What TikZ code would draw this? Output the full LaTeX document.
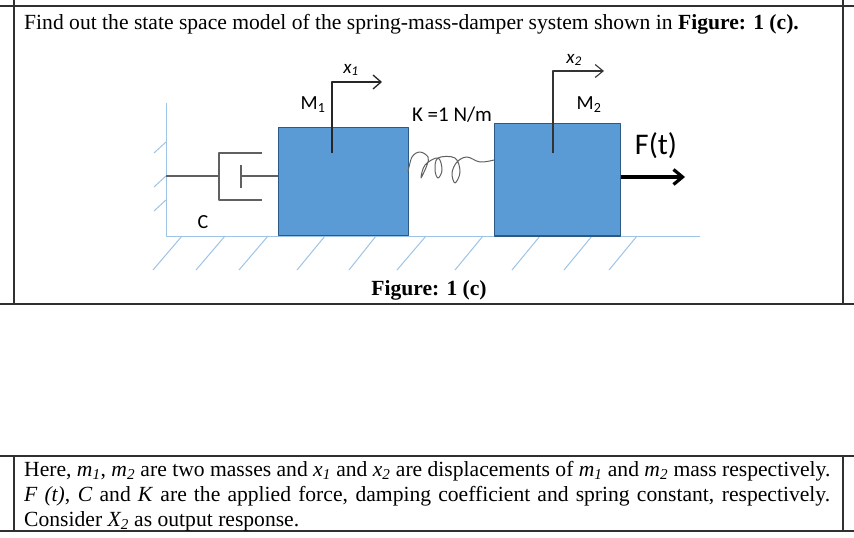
\documentclass[tikz,border=0pt]{standalone}
\usepackage{fontspec}
\usetikzlibrary{arrows.meta}
\setmainfont{Liberation Serif}
\newfontfamily\labelfont{Carlito}
\newcommand{\sub}[1]{\textsubscript{#1}}
\tikzset{
  mass/.style={draw=massedge,fill=massfill,line width=1.6pt,inner sep=0pt,anchor=north west},
  ground/.style={draw=groundblue,line width=1pt},
  rod/.style={draw=rodgray,line width=1.2pt},
  rule/.style={draw=rulegray,line width=1.5pt},
  tag/.style={font=\labelfont\fontsize{19}{19}\selectfont,inner sep=0pt},
  para/.style={font=\fontsize{21.6}{25}\selectfont,inner sep=0pt,anchor=base west},
}
\definecolor{massfill}{HTML}{5B9BD5}
\definecolor{massedge}{HTML}{2A5A85}
\definecolor{groundblue}{HTML}{9DC3E6}
\definecolor{rodgray}{HTML}{606060}
\definecolor{rulegray}{HTML}{303030}
\begin{document}
\begin{tikzpicture}[x=1pt,y=-1pt,line join=round]
  \useasboundingbox (0,0) rectangle (854,538);

  % table rules
  \draw[rule] (0,6) -- (854,6);
  \draw[rule] (0,304) -- (854,304);
  \draw[rule] (14,0) -- (14,304);
  \draw[rule] (843,0) -- (843,304);
  \draw[rule] (0,456) -- (854,456);
  \draw[rule] (0,531) -- (854,531);
  \draw[rule] (14,456) -- (14,531);
  \draw[rule] (843,456) -- (843,531);

  % wall and floor
  \draw[ground] (166,103) -- (166,236) -- (700,236);
  \foreach \xa/\ya/\xb/\yb in {166/142/154/153, 166/176/154/187, 166/200/154/211,
    182/236/153/270, 225/236/196/270, 268/236/239/270, 325/236/297/270,
    376/236/349/270, 426/236/397/270, 483/236/455/270, 540/236/512/270,
    592/236/564/270, 637/236/609/270}
    \draw[ground] (\xa,\ya) -- (\xb,\yb);

  % masses
  \node[mass,minimum width=130pt,minimum height=108pt] (M1) at (277.5,126.5) {};
  \node[mass,minimum width=126pt,minimum height=112.5pt] (M2) at (493.5,122.5) {};

  % damper
  \coordinate (wall) at (166,176);
  \coordinate (cyl) at (219,176);
  \coordinate (cylT) at (219,153);
  \coordinate (cylB) at (219,200);
  \coordinate (cylTe) at (262,153);
  \coordinate (cylBe) at (262,200);
  \coordinate (pist) at (241,176);
  \coordinate (pistT) at (241,165);
  \coordinate (pistB) at (241,188);
  \coordinate (rodend) at (M1.west |- pist);
  \draw[rod] (wall) -- (cyl);
  \draw[rod] (cylTe) -- (cylT) -- (cylB) -- (cylBe);
  \draw[rod] (pistT) -- (pistB);
  \draw[rod] (pist) -- (rodend);

  % spring
  \coordinate (sprA) at (408,172);
  \coordinate (sprB) at (494,160);
  \draw[rod,line width=1pt] plot[smooth,tension=0.6] coordinates {(sprA) (412,157) (420,152) (428,157)
    (427,165) (421,178) (425,165) (438,158) (442,170) (438,178) (435,170) (438,158)
    (455,158) (460,172) (455,183) (452,173) (457,162) (467,157) (480,162) (sprB)};

  % displacement arrows
  \coordinate (x1a) at (332,153);
  \coordinate (x1b) at (332,82);
  \coordinate (x1c) at (382,82);
  \coordinate (x2a) at (553,153);
  \coordinate (x2b) at (553,71);
  \coordinate (x2c) at (604,71);
  \draw[black!85,line width=1.3pt,-{Straight Barb[length=8pt,width=14pt]}] (x1a) -- (x1b) -- (x1c);
  \draw[black!80,line width=1.1pt,-{Straight Barb[length=8pt,width=13pt]}] (x2a) -- (x2b) -- (x2c);

  % force
  \coordinate (Fend) at (685,177);
  \draw[black,line width=3.2pt,-{Straight Barb[length=9pt,width=15pt]}] (M2.east |- Fend) -- (Fend);

  % labels
  \node[tag] (lx1) at (351,70) {\textit{x\sub{1}}};
  \node[tag] (lx2) at (574,60) {\textit{x\sub{2}}};
  \node[tag,font=\labelfont\fontsize{20}{20}\selectfont] (lm1) at (313,105) {M\sub{1}};
  \node[tag,font=\labelfont\fontsize{20}{20}\selectfont] (lm2) at (589,105) {M\sub{2}};
  \node[tag,font=\labelfont\fontsize{21}{20}\selectfont] (lk) at (452,115) {K =1 N/m};
  \node[tag,font=\labelfont\fontsize{20}{20}\selectfont] (lc) at (203,222) {C};
  \node[tag,font=\labelfont\fontsize{30}{30}\selectfont] (lf) at (656,146) {F(t)};
  \node[inner sep=0pt,font=\fontsize{21.6}{24}\bfseries\selectfont] (cap) at (429,290) {Figure: 1 (c)};

  % text
  \node[para] (q) at (24,29) {Find out the state space model of the spring-mass-damper system shown in \textbf{Figure: 1 (c).}};
  \node[para] (l1) at (24,476) {Here, \textit{m\sub{1}}, \textit{m\sub{2}} are two masses and \textit{x\sub{1}} and \textit{x\sub{2}} are displacements of \textit{m\sub{1}} and \textit{m\sub{2}} mass respectively.};
  \node[para] (l2) at (24,501) {\makebox[806pt][s]{\textit{F (t)}, \textit{C} and \textit{K} are the applied force, damping coefficient and spring constant, respectively.}};
  \node[para] (l3) at (24,526) {Consider \textit{X\sub{2}} as output response.};
\end{tikzpicture}
\end{document}
